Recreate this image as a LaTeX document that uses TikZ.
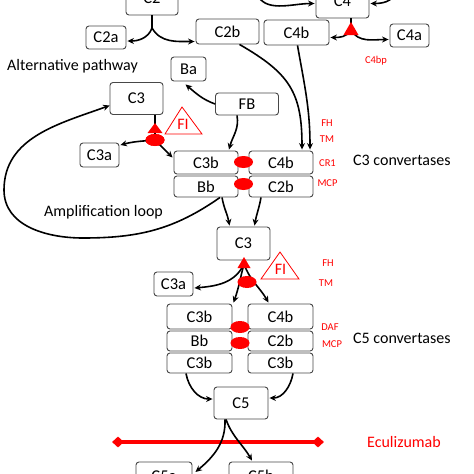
\documentclass[tikz,border=0pt]{standalone}
\usepackage{fontspec}
\setmainfont{Carlito}
\usetikzlibrary{arrows.meta,calc,shapes.geometric}
\tikzset{
  box/.style={draw=black!72, line width=0.9pt, rounded corners=3pt, inner sep=0pt, fill=white,
    font=\fontsize{16.5}{17}\selectfont},
  bx/.style 2 args={box, minimum width=#1pt, minimum height=#2pt},
  arr/.style={-{Stealth[length=6.5pt,width=6pt]}, line width=1.6pt, black},
  plain/.style={line width=1.6pt, black},
  redlab/.style={text=red, inner sep=0pt, font=\fontsize{10.5}{11}\selectfont},
  biglab/.style={anchor=west, inner sep=0pt, font=\fontsize{16}{18}\selectfont},
  redell/.style={ellipse, fill=red, minimum width=19pt, minimum height=12pt, inner sep=0pt},
  redtri/.style={fill=red},
  fitri/.style={draw=red, line width=0.8pt, fill=white},
  filab/.style={text=red, inner sep=0pt, font=\fontsize{16}{18}\selectfont},
  dia/.style={diamond, fill=red, minimum width=12pt, minimum height=11pt, inner sep=0pt},
}
\begin{document}
\begin{tikzpicture}[x=1pt,y=-1pt]
\useasboundingbox (0,0) rectangle (474,474);
% boxes
\node[bx={52}{33}] (C2) at (152,-1.5) {C2};
\node[bx={53}{33}] (C4) at (342.5,1.5) {C4};
\node[bx={40}{23}] (C2a) at (106,37.5) {C2a};
\node[bx={63}{25}] (C2bt) at (227.5,31.5) {C2b};
\node[bx={65}{25}] (C4bt) at (296.5,32.5) {C4b};
\node[bx={39}{23}] (C4a) at (409.5,35.5) {C4a};
\node[bx={35}{24}] (Ba) at (188.5,69) {Ba};
\node[bx={63}{22}] (FB) at (247,104) {FB};
\node[bx={53}{32}] (C3t) at (136.5,98.5) {C3};
\node[bx={39}{24}] (C3at) at (99.5,155) {C3a};
\node[bx={64}{23}] (C3b1) at (206,162.5) {C3b};
\node[bx={64}{21}] (Bb1) at (206,186.5) {Bb};
\node[bx={64}{23}] (C4b1) at (281,162.5) {C4b};
\node[bx={64}{21}] (C2b1) at (281,186.5) {C2b};
\node[bx={53}{33}] (C3m) at (243.5,243.5) {C3};
\node[bx={39}{24}] (C3am) at (173.5,284) {C3a};
\node[bx={65}{25}] (C3b2) at (199.5,316.5) {C3b};
\node[bx={65}{20}] (Bb2) at (199.5,341) {Bb};
\node[bx={65}{20}] (C3b3) at (199.5,363) {C3b};
\node[bx={65}{25}] (C4b2) at (280.5,316.5) {C4b};
\node[bx={65}{20}] (C2b2) at (280.5,341) {C2b};
\node[bx={65}{20}] (C3b4) at (280.5,363) {C3b};
\node[bx={54}{32}] (C5) at (241,403) {C5};
\node[bx={56}{28}] (C5a) at (164,476) {C5a};
\node[bx={64}{28}] (C5b) at (261,476) {C5b};
% labels
\node[biglab] (altp) at (7,66) {Alternative pathway};
\node[biglab] (amp) at (44,212) {Amplification loop};
\node[biglab] (c3c) at (353,160) {C3 convertases};
\node[biglab] (c5c) at (353,338) {C5 convertases};
\node[biglab, text=red] (ecu) at (367,442) {Eculizumab};
\node[redlab] (l4bp) at (376,61) {C4bp};
\node[redlab] (lfh1) at (327,123) {FH};
\node[redlab] (ltm1) at (327,139) {TM};
\node[redlab] (lcr1) at (327.5,163) {CR1};
\node[redlab] (lmcp1) at (327.5,183) {MCP};
\node[redlab] (lfh2) at (328,263) {FH};
\node[redlab] (ltm2) at (326,283) {TM};
\node[redlab] (ldaf) at (330,327) {DAF};
\node[redlab] (lmcp2) at (332,344) {MCP};
% coordinates
\coordinate (pL) at (256,-8);
\coordinate (pR) at (396,-8);
\coordinate (c2j) at (152,28);
\coordinate (c4j) at (351,30);
\coordinate (lb) at (83,238);
\coordinate (ll) at (4,190);
\coordinate (m) at (244,264);
\coordinate (eL) at (118,442);
\coordinate (eR) at (318,442);
% top partial arrows
\draw[arr] (pL) to[out=-70,in=180] ($(C4.west)+(-1,2)$);
\draw[arr] (pR) to[out=-110,in=0] ($(C4.east)+(1,2)$);
% C2 split
\draw[plain] (C2.south) -- (c2j);
\draw[arr] (c2j) to[out=-110,in=0] ($(C2a.east)+(1,3.5)$);
\draw[arr] (c2j) to[out=-60,in=180] ($(C2bt.west)+(-1,10)$);
% C4 split
\draw[plain] (C4.south -| c4j) -- (c4j);
\draw[arr] (c4j) to[out=-120,in=0] ($(C4bt.east)+(1,5)$);
\draw[arr] (c4j) to[out=-60,in=180] ($(C4a.west)+(-1,4)$);
% FB
\draw[arr] (FB.west) to[out=160,in=-40] ($(Ba.south)+(-3,3)$);
\draw[arr] ($(FB.south)+(-10,0)$) to[out=-80,in=75] ($(C3b1.north)+(23,-1)$);
% C2b, C4b to convertase
\draw[arr] ($(C2bt.south)+(12,0)$) to[out=-30,in=90,looseness=1.2] ($(C4b1.north)+(21,-1)$);
\draw[arr] ($(C4bt.south)+(1,0)$) to[out=-80,in=90] ($(C4b1.north)+(29,-1)$);
% amplification loop
\draw[arr] ($(Bb1.south)+(14,0)$) to[out=-145,in=0] (lb) to[out=180,in=-90] (ll) to[out=90,in=-160] ($(C3t.west)+(0,7)$);
% convertase to C3
\draw[arr] ($(Bb1.south)+(16,0)$) to[out=-80,in=100] ($(C3m.north)+(-14,-1)$);
\draw[arr] ($(C2b1.south)+(-20,0)$) to[out=-100,in=80] ($(C3m.north)+(11,-1)$);
% C3 top cleavage
\node[redell] (e1) at (155,140) {};
\draw[plain] ($(C3t.south)+(18.5,0)$) -- (e1.center);
\draw[arr] (e1.center) to[out=-175,in=15] ($(C3at.east)+(1,-10)$);
\draw[arr] (e1.center) -- ($(C3b1.west)+(-1,-5)$);
% C3 middle cleavage
\draw[plain] ($(C3m.south)+(0.5,0)$) -- (m);
\draw[arr] (m) to[out=-115,in=5] ($(C3am.east)+(1,4)$);
\draw[arr] (m) to[out=-105,in=70] ($(C3b2.north east)+(1,-1)$);
\draw[arr] (m) to[out=-70,in=120] ($(C4b2.north)+(-12,-1)$);
% C5 convertases to C5
\draw[arr] ($(C3b3.south)+(-13.5,0)$) to[out=-80,in=180] ($(C5.west)+(-1,-4)$);
\draw[arr] ($(C3b4.south)+(12.5,0)$) to[out=-100,in=0] ($(C5.east)+(1,-5)$);
% Eculizumab
\draw[red, line width=4pt] (eL) -- (eR);
\node[dia] (dL) at (eL) {};
\node[dia] (dR) at (eR) {};
% C5 cleavage
\draw[arr] ($(C5.south)+(-16,0)$) to[out=-88,in=40] ($(C5a.east)+(3,-4)$);
\draw[arr] ($(C5.south)+(-15,0)$) to[out=-70,in=120] ($(C5b.north)+(-9,-1)$);
% red ellipses and triangles
\node[redell] at (e1) {};
\node[redell] (e3) at (243.5,162) {};
\node[redell] (e4) at (243.5,184) {};
\node[redell] (e2) at (247,282) {};
\node[redell] (e5) at (240,327) {};
\node[redell] (e6) at (240,343) {};
\fill[redtri] (147.5,133) -- (155,123) -- (162.5,133) -- cycle;
\fill[redtri] (237.5,268) -- (244,257) -- (250.5,268) -- cycle;
\fill[redtri] (343.5,35) -- (351,22) -- (358.5,35) -- cycle;
% FI triangles
\draw[fitri] (165,134) -- (182,107) -- (202,134) -- cycle;
\node[filab] (fi1) at (183,124.5) {FI};
\draw[fitri] (261,279) -- (280,252) -- (299,279) -- cycle;
\node[filab] (fi2) at (280.5,269.5) {FI};
\end{tikzpicture}
\end{document}
